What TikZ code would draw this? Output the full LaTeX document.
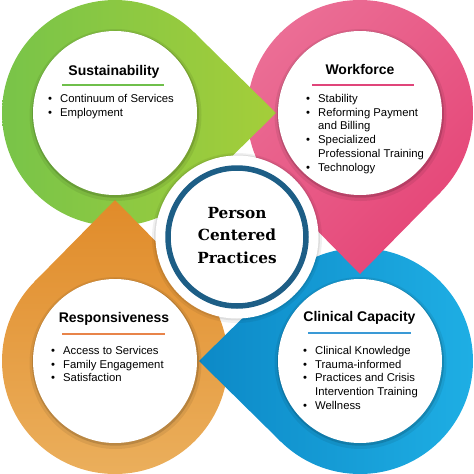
\documentclass[tikz,border=0pt]{standalone}
\usepackage{fontspec}
\setmainfont{Liberation Sans}
\newfontfamily\slabfont{DejaVu Serif}
\usetikzlibrary{calc,shadings}
\definecolor{grA}{HTML}{6FC24C}
\definecolor{grB}{HTML}{A6CE39}
\definecolor{pkA}{HTML}{EE82A4}
\definecolor{pkM}{HTML}{E85C88}
\definecolor{pkB}{HTML}{E3346A}
\definecolor{blA}{HTML}{0C88C6}
\definecolor{blB}{HTML}{22B6EA}
\definecolor{orA}{HTML}{E08A28}
\definecolor{orB}{HTML}{EDB666}
\definecolor{ringblue}{HTML}{1D5E86}
\definecolor{grLine}{HTML}{6FBF4B}
\definecolor{pkLine}{HTML}{E0457A}
\definecolor{orLine}{HTML}{E8844A}
\definecolor{blLine}{HTML}{3A9AD6}
\newcommand\bul{\makebox[12pt][l]{\textbullet}}
\newcommand\ind{\hspace*{12pt}}
\begin{document}
\begin{tikzpicture}[x=1pt,y=-1pt,
  gshade/.style={left color=grA, right color=grB},
  pshade/.style={upper left=pkA, upper right=pkM, lower left=pkM, lower right=pkB},
  bshade/.style={left color=blA, right color=blB},
  oshade/.style={top color=orA, bottom color=orB},
  head/.style={font=\bfseries\fontsize{14}{16}\selectfont, anchor=base, inner sep=0},
  blist/.style={font=\fontsize{11.3}{13.8}\selectfont, align=left, anchor=north west, inner sep=0},
  uline/.style={line width=1.3pt}]
\useasboundingbox (0,0) rectangle (474,474);
% outer circles
\foreach \cx/\cy/\sh in {115/113/gshade, 360/113/pshade, 360/361/bshade, 115/361/oshade} {
  \begin{scope}
    \clip (\cx,\cy) circle[radius=113];
    \shade[\sh] (\cx-170,\cy-170) rectangle (\cx+170,\cy+170);
  \end{scope}
}
% tips
\foreach \cx/\cy/\t/\sh in {115/113/0/gshade, 360/113/90/pshade, 360/361/180/bshade, 115/361/270/oshade} {
  \begin{scope}
    \clip ($(\cx,\cy)+(\t:161)$) -- ($(\cx,\cy)+(\t+45.4:113)$) -- ($(\cx,\cy)+(\t-45.4:113)$) -- cycle;
    \shade[\sh] (\cx-170,\cy-170) rectangle (\cx+170,\cy+170);
  \end{scope}
}
% inner white circles
\foreach \cx/\cy in {115/113, 360/113, 360/361, 115/361} {
  \fill[black, opacity=0.07] (\cx+0.5,\cy+2) circle[radius=86];
  \fill[black, opacity=0.14] (\cx+0.5,\cy+1.2) circle[radius=83.5];
  \fill[white] (\cx,\cy) circle[radius=82];
}
% center
\fill[black, opacity=0.06] (237,238) circle[radius=85];
\fill[black, opacity=0.08] (237,237.5) circle[radius=83];
\fill[white] (237,237) circle[radius=81.5];
\draw[ringblue, line width=5.5pt] (237,237) circle[radius=69];
\node[font=\slabfont\bfseries\fontsize{15.3}{22.8}\selectfont, align=center, inner sep=0] (center) at (237,235.5) {Person\\Centered\\Practices};
% Sustainability
\node[head] (h1) at (114,75) {Sustainability};
\draw[grLine, uline] (62,85) -- (164,85);
\node[blist] (l1) at (48,94) {\bul Continuum of Services\\ \bul Employment};
% Workforce
\node[head] (h2) at (360,74) {Workforce};
\draw[pkLine, uline] (312,85) -- (414,85);
\node[blist] (l2) at (306,94) {\bul Stability\\ \bul Reforming Payment\\ \ind and Billing\\ \bul Specialized\\ \ind Professional Training\\ \bul Technology};
% Responsiveness
\node[head] (h3) at (114,322) {Responsiveness};
\draw[orLine, uline] (62,334) -- (165,334);
\node[blist] (l3) at (51,346) {\bul Access to Services\\ \bul Family Engagement\\ \bul Satisfaction};
% Clinical Capacity
\node[head] (h4) at (359.5,321) {Clinical Capacity};
\draw[blLine, uline] (308,333) -- (411,333);
\node[blist] (l4) at (303,346) {\bul Clinical Knowledge\\ \bul Trauma-informed\\ \bul Practices and Crisis\\ \ind Intervention Training\\ \bul Wellness};
\end{tikzpicture}
\end{document}
